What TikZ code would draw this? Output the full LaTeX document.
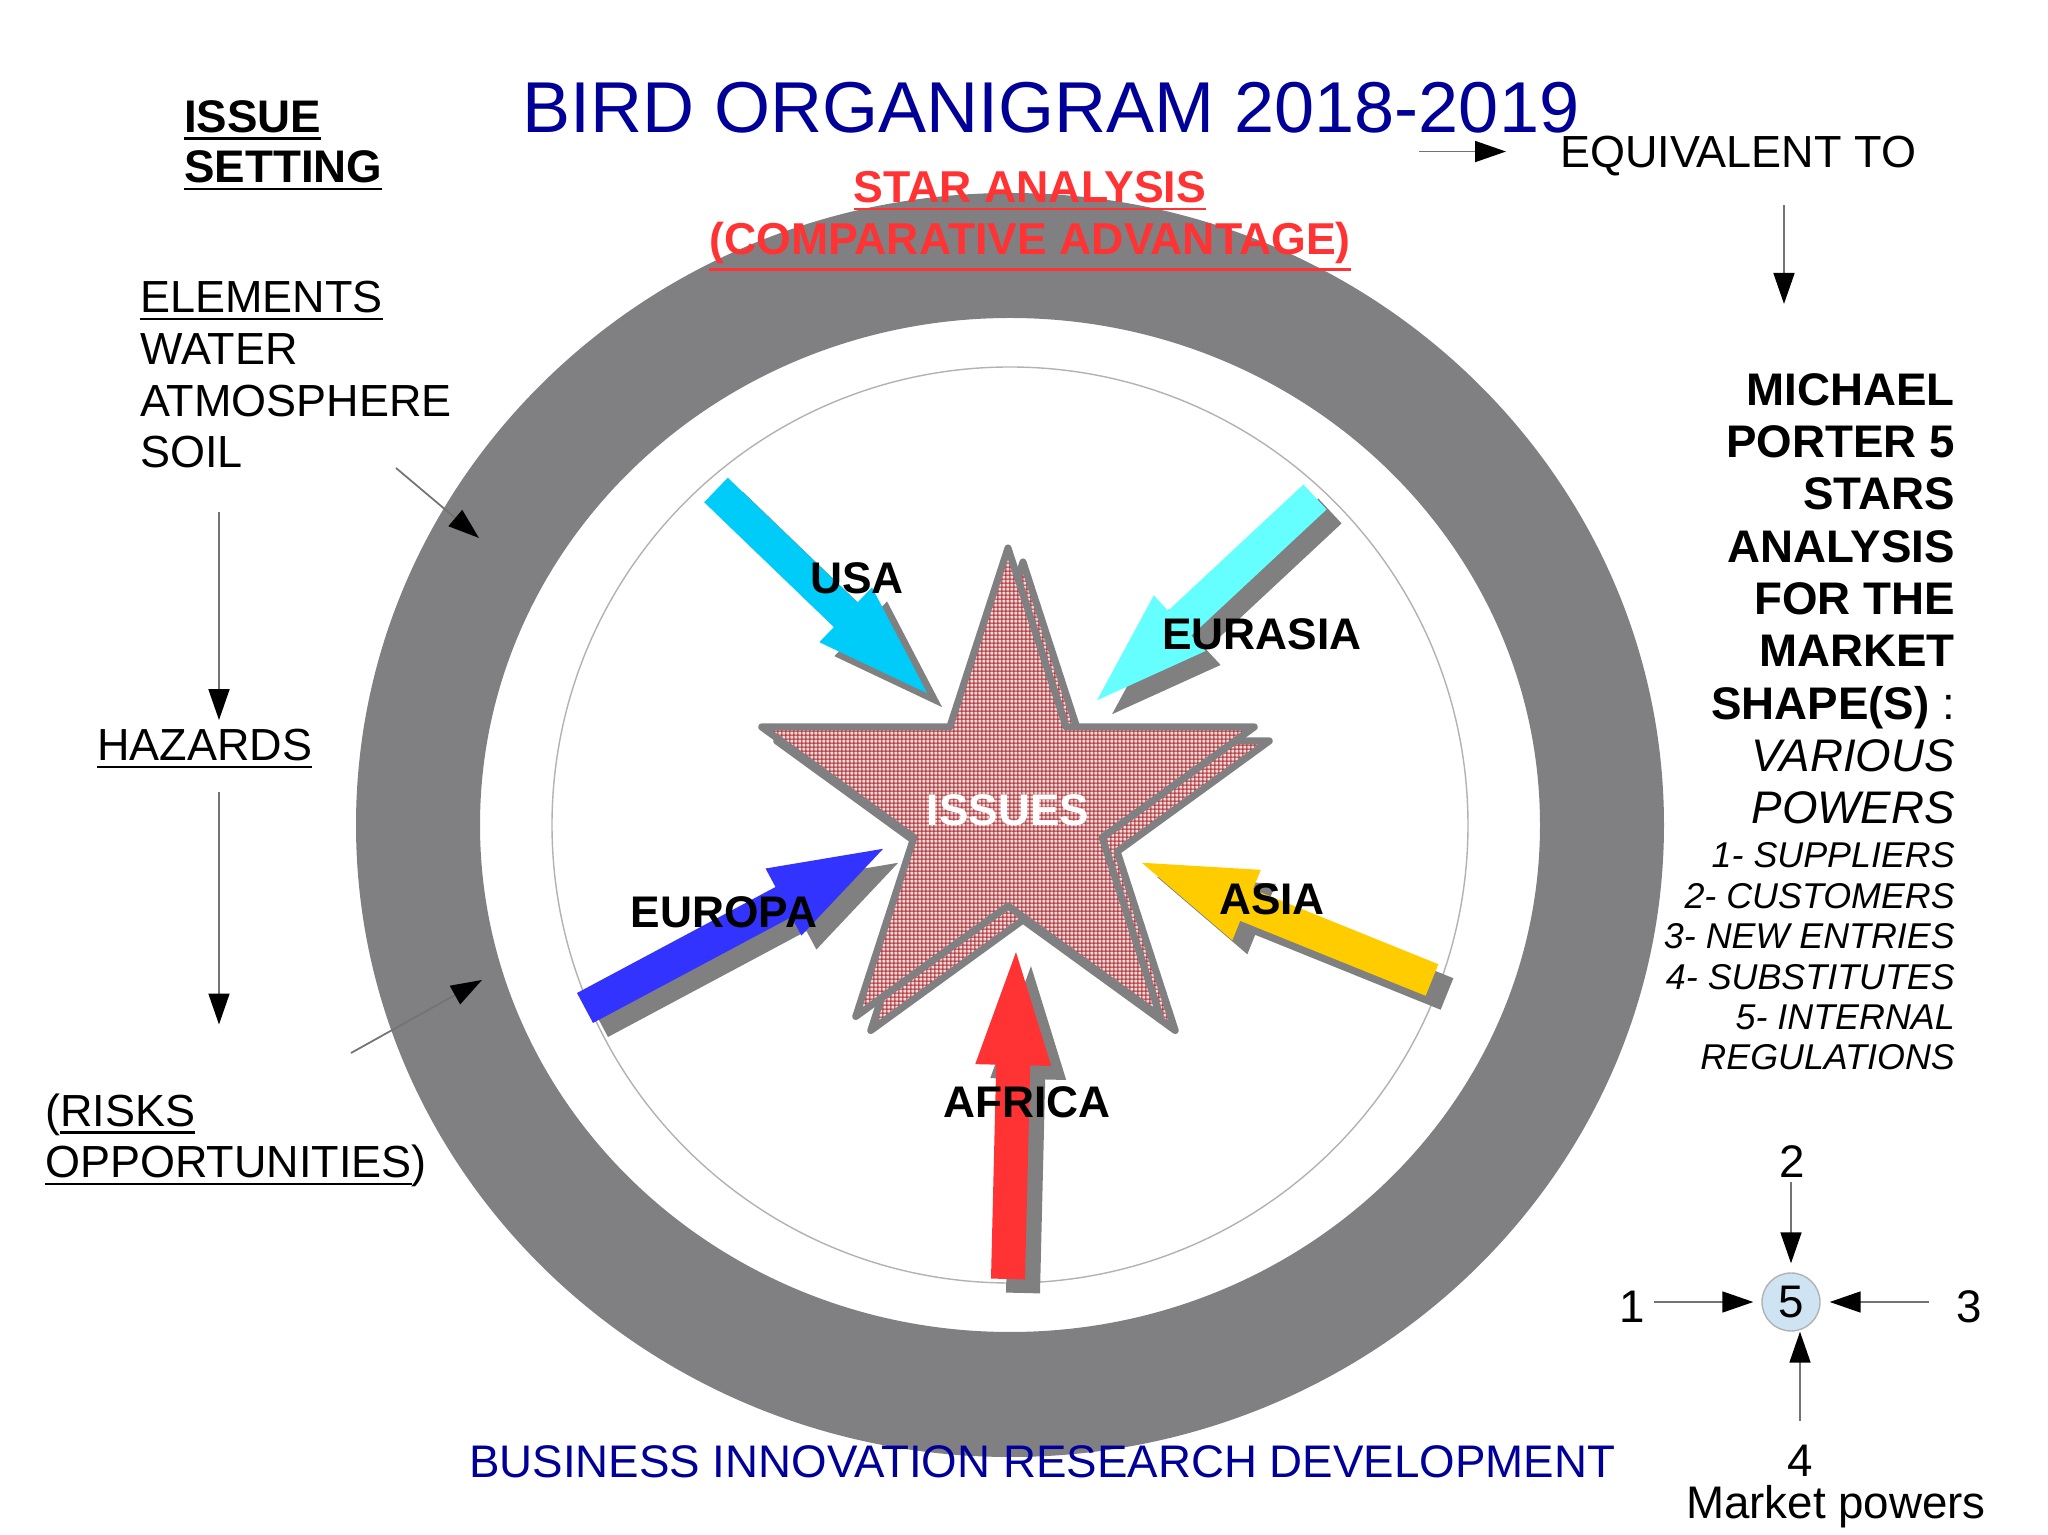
\documentclass[tikz,border=0pt]{standalone}
\usepackage{fontspec}
\setmainfont{Liberation Sans}
\usetikzlibrary{arrows.meta,patterns.meta}

\definecolor{birdblue}{RGB}{0,0,153}
\definecolor{starred}{RGB}{255,51,51}
\definecolor{ringgray}{RGB}{128,127,130}
\definecolor{shadowgray}{RGB}{128,128,128}
\definecolor{usablue}{RGB}{0,204,250}
\definecolor{eurasiacyan}{RGB}{102,255,255}
\definecolor{europablue}{RGB}{51,51,255}
\definecolor{asiagold}{RGB}{255,204,0}
\definecolor{africared}{RGB}{255,51,51}
\definecolor{starpink}{RGB}{238,218,218}
\definecolor{gridred}{RGB}{175,45,50}
\definecolor{fivefill}{RGB}{207,228,243}

\tikzdeclarepattern{
  name=finegrid,
  type=uncolored,
  bounding box={(0,0) and (1.25pt,1.25pt)},
  tile size={(1.25pt,1.25pt)},
  code={
    \draw[line width=0.3pt] (0,0.625pt) -- (1.25pt,0.625pt) (0.625pt,0) -- (0.625pt,1.25pt);
  }
}

\tikzset{
  lbl/.style={inner sep=1pt},
  titletext/.style={lbl, text=birdblue, font=\fontsize{20.5}{24}\selectfont},
  bluetext/.style={lbl, text=birdblue, font=\fontsize{13}{15}\selectfont},
  headtext/.style={lbl, align=left, font=\fontsize{13}{14.5}\selectfont\bfseries},
  sidetext/.style={lbl, align=left, font=\fontsize{12.8}{14.7}\selectfont},
  redtext/.style={lbl, align=center, text=starred, font=\fontsize{12.7}{14.8}\selectfont\bfseries},
  portertext/.style={lbl, align=right, font=\fontsize{13}{14.9}\selectfont\bfseries},
  forcetext/.style={lbl, align=right, font=\fontsize{10.2}{11.5}\selectfont\itshape},
  regionlabel/.style={lbl, font=\fontsize{12.6}{15}\selectfont\bfseries},
  numtext/.style={lbl, font=\fontsize{13}{15}\selectfont},
  thinarrow/.style={draw=black!55, line width=0.5pt,
    -{Triangle[length=3.1mm,width=2.1mm,color=black]}},
  starline/.style={draw=ringgray, line width=2pt, line join=round}
}

\newcommand{\ulined}[1]{\leavevmode\vtop{\hbox{#1}\kern1.2pt\hrule height 0.8pt}}
\newcommand{\starpath}{(90:2.59) -- (126:0.99) -- (162:2.59) -- (198:0.99) -- (234:2.59)
  -- (270:0.99) -- (306:2.59) -- (342:0.99) -- (18:2.59) -- (54:0.99) -- cycle}
% colour, tail, angle, length
\newcommand{\regionarrow}[4]{%
  \fill[shadowgray, shift={#2}, shift={(0.15,-0.14)}, rotate=#3]
    (0,-0.17) -- ({#4-1.13},-0.17) -- ({#4-1.13},-0.38) -- (#4,0)
    -- ({#4-1.13},0.38) -- ({#4-1.13},0.17) -- (0,0.17) -- cycle;
  \fill[#1, shift={#2}, rotate=#3]
    (0,-0.17) -- ({#4-1.13},-0.17) -- ({#4-1.13},-0.38) -- (#4,0)
    -- ({#4-1.13},0.38) -- ({#4-1.13},0.17) -- (0,0.17) -- cycle;
}

\begin{document}
\begin{tikzpicture}
  \useasboundingbox (0,0) rectangle (20.48,15.35);

  % big grey ring
  \fill[ringgray, even odd rule] (10.10,7.10) ellipse (6.54 and 6.32)
    (10.10,7.10) ellipse (5.30 and 5.07);
  % thin circle
  \draw[black!30, line width=0.4pt] (10.10,7.10) circle (4.58);

  % star shadow
  \begin{scope}[shift={(10.23,7.14)}]
    \fill[starpink] \starpath;
    \fill[pattern=finegrid, pattern color=gridred] \starpath;
    \draw[starline] \starpath;
  \end{scope}
  % star
  \begin{scope}[shift={(10.08,7.28)}]
    \fill[starpink] \starpath;
    \fill[pattern=finegrid, pattern color=gridred] \starpath;
    \draw[starline] \starpath;
  \end{scope}
  \node[regionlabel, text=white] (issues) at (10.08,7.25) {ISSUES};

  % region arrows
  \regionarrow{usablue}{(7.16,10.45)}{-43.9}{2.93}
  \regionarrow{eurasiacyan}{(13.15,10.38)}{-137.0}{2.98}
  \regionarrow{europablue}{(5.85,5.27)}{28.1}{3.38}
  \regionarrow{asiagold}{(14.32,5.55)}{158.0}{3.13}
  \regionarrow{africared}{(10.08,2.56)}{88.6}{3.27}

  \node[regionlabel] (usa) at (8.57,9.57) {USA};
  \node[regionlabel] (eurasia) at (12.62,9.01) {EURASIA};
  \node[regionlabel] (europa) at (7.24,6.23) {EUROPA};
  \node[regionlabel] (asia) at (12.72,6.36) {ASIA};
  \node[regionlabel] (africa) at (10.27,4.33) {AFRICA};

  % titles (base = last line)
  \node[titletext, anchor=base west] (title) at (5.18,14.02) {BIRD ORGANIGRAM 2018-2019};
  \node[redtext, anchor=base] (staran) at (10.30,12.80)
    {\ulined{STAR ANALYSIS}\\\ulined{(COMPARATIVE ADVANTAGE)}};
  \node[bluetext, anchor=base west] (bird) at (4.65,0.57)
    {BUSINESS INNOVATION RESEARCH DEVELOPMENT};

  % left column
  \node[headtext, anchor=base west] (issue) at (1.80,13.52) {\ulined{ISSUE}\\\ulined{SETTING}};
  \node[sidetext, anchor=base west] (elements) at (1.36,10.67)
    {\ulined{ELEMENTS}\\WATER\\ATMOSPHERE\\SOIL};
  \node[sidetext, anchor=base west] (hazards) at (0.93,7.74) {\ulined{HAZARDS}};
  \node[sidetext, anchor=base west] (risks) at (0.41,3.57)
    {(\ulined{RISKS}\\\ulined{OPPORTUNITIES})};

  \coordinate (soilend) at (3.96,10.67);
  \coordinate (ringleft) at (4.79,9.97);
  \draw[thinarrow] (soilend) -- (ringleft);
  \coordinate (elemfoot) at (2.19,10.23);
  \draw[thinarrow, shorten >=1.5pt] (elemfoot) -- (elemfoot |- hazards.north);
  \draw[thinarrow, shorten <=0.19cm, shorten >=0.65cm] (elemfoot |- hazards.south) -- (elemfoot |- risks.north);
  \coordinate (riskend) at (3.51,4.82);
  \coordinate (ringlow) at (4.82,5.55);
  \draw[thinarrow] (riskend) -- (ringlow);

  % right column
  \node[sidetext, anchor=base west] (equiv) at (15.56,13.67) {EQUIVALENT TO};
  \draw[thinarrow, shorten >=0.5cm] ([xshift=-1.37cm, yshift=0.05cm]equiv.west) -- ([yshift=0.05cm]equiv.west);
  \node[portertext, anchor=base east] (porter) at (19.59,7.11)
    {MICHAEL\\PORTER 5\\STARS\\ANALYSIS\\FOR THE\\MARKET\\SHAPE(S) {\mdseries :}\\
     {\mdseries\itshape VARIOUS}\\{\mdseries\itshape POWERS}};
  \node[forcetext, anchor=base east] (forces) at (19.59,4.65)
    {1- SUPPLIERS\\2- CUSTOMERS\\3- NEW ENTRIES\\4- SUBSTITUTES\\5- INTERNAL\\REGULATIONS};
  \coordinate (eqfoot) at (17.84,13.30);
  \draw[thinarrow, shorten >=0.65cm] (eqfoot) -- (eqfoot |- porter.north);

  % market powers
  \node[numtext, circle, draw=black!30, fill=fivefill, minimum size=0.58cm, inner sep=0pt] (n5) at (17.91,2.33) {5};
  \node[numtext] (n1) at (16.32,2.28) {1};
  \node[numtext] (n2) at (17.92,3.73) {2};
  \node[numtext] (n3) at (19.69,2.28) {3};
  \node[numtext] (n4) at (18.00,0.74) {4};
  \node[numtext, anchor=base] (market) at (18.36,0.16) {Market powers};
  \draw[thinarrow, shorten <=0.05cm, shorten >=0.08cm] (n1.east |- n5) -- (n5.west);
  \draw[thinarrow, shorten <=0.23cm, shorten >=0.09cm] (n3.west |- n5) -- (n5.east);
  \draw[thinarrow, shorten >=0.09cm] (n2.south -| n5) -- (n5.north);
  \draw[thinarrow, shorten <=0.2cm] (n4.north) -- (n4.north |- n5.south);
\end{tikzpicture}
\end{document}
